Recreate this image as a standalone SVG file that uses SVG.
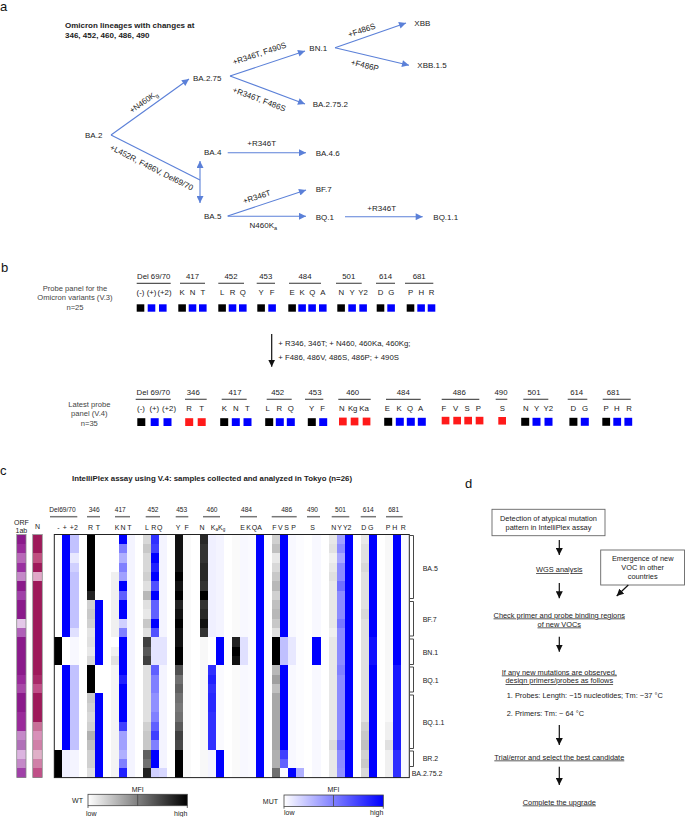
<svg xmlns="http://www.w3.org/2000/svg" width="685" height="817" viewBox="0 0 685 817">
<style>
text{font-family:"Liberation Sans",Arial,Helvetica,sans-serif;fill:#222}
.pl{font-size:13px;fill:#111}
.n8{font-size:8px}
.b8{font-size:8px;font-weight:bold}
.g8{font-size:7.6px;fill:#444}
.k8{font-size:7.8px}
.r8{font-size:7.8px;fill:#ff2a2a}
.h7{font-size:7px}
.hg{font-size:6.6px}
.d8{font-size:7.4px}
.m{text-anchor:middle}
.e{text-anchor:end}
.bl{stroke:#5b80d8;stroke-width:1.1;fill:none}
.ul{stroke:#555;stroke-width:1.2}
.ulc{stroke:#777;stroke-width:1.5}
.ka{stroke:#111;stroke-width:1.2}
.sqk{fill:#000}
.sqb{fill:#0000ff}
.sqr{fill:#ff1a1a}
.box{fill:#fff;stroke:#666;stroke-width:0.9}
.br{fill:none;stroke:#333;stroke-width:0.9}
</style>
<defs>
<marker id="ab" viewBox="0 0 10 10" refX="10" refY="5" markerWidth="9" markerHeight="7" markerUnits="userSpaceOnUse" orient="auto-start-reverse"><path d="M0,0 L10,5 L0,10 z" fill="#5b80d8"/></marker>
<marker id="ak" viewBox="0 0 10 10" refX="10" refY="5" markerWidth="7" markerHeight="7" markerUnits="userSpaceOnUse" orient="auto"><path d="M0,0 L10,5 L0,10 z" fill="#111"/></marker>
<linearGradient id="gwt" x1="0" x2="1" y1="0" y2="0"><stop offset="0" stop-color="#fff"/><stop offset="1" stop-color="#000"/></linearGradient>
<linearGradient id="gmut" x1="0" x2="1" y1="0" y2="0"><stop offset="0" stop-color="#fff"/><stop offset="1" stop-color="#0000ff"/></linearGradient>
</defs>

<!-- Panel a -->
<text class="pl" x="0" y="11">a</text>
<text class="b8" x="65" y="28">Omicron lineages with changes at</text>
<text class="b8" x="65" y="37.5">346, 452, 460, 486, 490</text>

<g id="connectors-a">
<path class="bl" d="M111,135 L189,79" marker-end="url(#ab)"/>
<path class="bl" d="M111,135 L200,180"/>
<path class="bl" d="M200,161 L200,203" stroke-width="1.6" marker-start="url(#ab)" marker-end="url(#ab)"/>
<path class="bl" d="M230,76 L305,51" marker-end="url(#ab)"/>
<path class="bl" d="M230,76 L305,104" marker-end="url(#ab)"/>
<path class="bl" d="M335,47.7 L406,23" marker-end="url(#ab)"/>
<path class="bl" d="M335,47.7 L409,65.3" marker-end="url(#ab)"/>
<path class="bl" d="M227.7,152.7 L306,152.7" marker-end="url(#ab)"/>
<path class="bl" d="M227.7,216 L306,190" marker-end="url(#ab)"/>
<path class="bl" d="M227.7,216.3 L306,216.3" marker-end="url(#ab)"/>
<path class="bl" d="M345,216.7 L422.7,216.7" marker-end="url(#ab)"/>
</g>
<g id="edge-labels-a">
<text class="n8 m" transform="translate(143.3,101.7) rotate(-35.7)" y="3">+N460K<tspan font-size="5.5" dy="2">g</tspan></text>
<text class="n8 m" transform="translate(151.7,167.3) rotate(26.8)" y="3">+L452R, F486V, Del69/70</text>
<text class="n8 m" transform="translate(259.3,53.3) rotate(-18.6)" y="3">+R346T, F490S</text>
<text class="n8 m" transform="translate(259.3,99) rotate(20.5)" y="3">+R346T, F486S</text>
<text class="n8 m" transform="translate(361.7,30) rotate(-19.4)" y="3">+F486S</text>
<text class="n8 m" transform="translate(365,65) rotate(13.4)" y="3">+F486P</text>
<text class="n8 m" x="261.7" y="146.3">+R346T</text>
<text class="n8 m" transform="translate(256.7,196.7) rotate(-18.4)" y="3">+R346T</text>
<text class="n8 m" x="263.3" y="228">N460K<tspan font-size="5.5" dy="2">a</tspan></text>
<text class="n8 m" x="381.7" y="211.3">+R346T</text>
</g>
<g id="BA2"><text class="n8" x="85" y="138">BA.2</text></g>
<g id="BA275"><text class="n8" x="193" y="80.5">BA.2.75</text></g>
<g id="BA4"><text class="n8" x="204" y="155">BA.4</text></g>
<g id="BA5"><text class="n8" x="204" y="219">BA.5</text></g>
<g id="BN1"><text class="n8" x="309.3" y="50.5">BN.1</text></g>
<g id="XBB"><text class="n8" x="414.3" y="25.5">XBB</text></g>
<g id="XBB15"><text class="n8" x="417.3" y="68">XBB.1.5</text></g>
<g id="BA2752"><text class="n8" x="312.7" y="107">BA.2.75.2</text></g>
<g id="BA46"><text class="n8" x="315.7" y="156">BA.4.6</text></g>
<g id="BF7"><text class="n8" x="315.7" y="192">BF.7</text></g>
<g id="BQ1"><text class="n8" x="315.7" y="219.5">BQ.1</text></g>
<g id="BQ11"><text class="n8" x="433.3" y="219.5">BQ.1.1</text></g>

<!-- Panel b -->
<text class="pl" x="1" y="272">b</text>
<g id="panel-v3">
<text class="g8 m" x="75" y="291">Probe panel for the</text>
<text class="g8 m" x="75" y="300.3">Omicron variants (V.3)</text>
<text class="g8 m" x="75" y="309.5">n=25</text>
<g class="k8 m">
<text x="153.7" y="279">Del 69/70</text><text x="192.5" y="279">417</text><text x="231" y="279">452</text><text x="265.8" y="279">453</text><text x="305" y="279">484</text><text x="348.8" y="279">501</text><text x="385.5" y="279">614</text><text x="419.2" y="279">681</text>
</g>
<g class="ul">
<line x1="136.7" x2="170.7" y1="283.3" y2="283.3"/><line x1="180" x2="205" y1="283.3" y2="283.3"/><line x1="218.3" x2="244" y1="283.3" y2="283.3"/><line x1="256.7" x2="275" y1="283.3" y2="283.3"/><line x1="289" x2="321" y1="283.3" y2="283.3"/><line x1="336" x2="361.7" y1="283.3" y2="283.3"/><line x1="376" x2="395" y1="283.3" y2="283.3"/><line x1="405" x2="433.3" y1="283.3" y2="283.3"/>
</g>
<g class="k8 m">
<text x="140.5" y="294.5">(-)</text><text x="151.5" y="294.5">(+)</text><text x="164.5" y="294.5">(+2)</text>
<text x="182.2" y="294.5">K</text><text x="192.5" y="294.5">N</text><text x="202.8" y="294.5">T</text>
<text x="222.2" y="294.5">L</text><text x="232.5" y="294.5">R</text><text x="242.8" y="294.5">Q</text>
<text x="261.2" y="294.5">Y</text><text x="272.2" y="294.5">F</text>
<text x="292.2" y="294.5">E</text><text x="302.2" y="294.5">K</text><text x="312.2" y="294.5">Q</text><text x="322.8" y="294.5">A</text>
<text x="341.2" y="294.5">N</text><text x="352.2" y="294.5">Y</text><text x="363" y="294.5">Y2</text>
<text x="380.5" y="294.5">D</text><text x="391.2" y="294.5">G</text>
<text x="410.5" y="294.5">P</text><text x="421.2" y="294.5">H</text><text x="431.5" y="294.5">R</text>
</g>
<g>
<rect class="sqk" x="136.7" y="304.3" width="7.6" height="7.4"/><rect class="sqb" x="147.7" y="304.3" width="7.6" height="7.4"/><rect class="sqb" x="159" y="304.3" width="7.6" height="7.4"/>
<rect class="sqk" x="178.3" y="304.3" width="7.6" height="7.4"/><rect class="sqb" x="188.7" y="304.3" width="7.6" height="7.4"/><rect class="sqb" x="199" y="304.3" width="7.6" height="7.4"/>
<rect class="sqk" x="218.3" y="304.3" width="7.6" height="7.4"/><rect class="sqb" x="228.7" y="304.3" width="7.6" height="7.4"/><rect class="sqb" x="239" y="304.3" width="7.6" height="7.4"/>
<rect class="sqk" x="257.3" y="304.3" width="7.6" height="7.4"/><rect class="sqb" x="268.3" y="304.3" width="7.6" height="7.4"/>
<rect class="sqk" x="288.3" y="304.3" width="7.6" height="7.4"/><rect class="sqb" x="298.3" y="304.3" width="7.6" height="7.4"/><rect class="sqb" x="308.3" y="304.3" width="7.6" height="7.4"/><rect class="sqb" x="319" y="304.3" width="7.6" height="7.4"/>
<rect class="sqk" x="337.3" y="304.3" width="7.6" height="7.4"/><rect class="sqb" x="348.3" y="304.3" width="7.6" height="7.4"/><rect class="sqb" x="359.3" y="304.3" width="7.6" height="7.4"/>
<rect class="sqk" x="376.7" y="304.3" width="7.6" height="7.4"/><rect class="sqb" x="387.3" y="304.3" width="7.6" height="7.4"/>
<rect class="sqk" x="406.7" y="304.3" width="7.6" height="7.4"/><rect class="sqb" x="417.3" y="304.3" width="7.6" height="7.4"/><rect class="sqb" x="427.7" y="304.3" width="7.6" height="7.4"/>
</g>
</g>

<g id="connector-b">
<line class="ka" x1="271.7" y1="334" x2="271.7" y2="366.7" marker-end="url(#ak)"/>
</g>
<text class="k8" x="278.3" y="346">+ R346, 346T; + N460, 460Ka, 460Kg;</text>
<text class="k8" x="278.3" y="359.5">+ F486, 486V, 486S, 486P; + 490S</text>

<g id="panel-v4">
<text class="g8 m" x="89.3" y="407">Latest probe</text>
<text class="g8 m" x="89.3" y="416">panel (V.4)</text>
<text class="g8 m" x="89.3" y="425.5">n=35</text>
<g class="k8 m">
<text x="153.3" y="395">Del 69/70</text><text x="235" y="395">417</text><text x="277.7" y="395">452</text><text x="315" y="395">453</text><text x="403.3" y="395">484</text><text x="534" y="395">501</text><text x="576.7" y="395">614</text><text x="613.3" y="395">681</text>
</g>
<g class="r8 m">
<text x="193.3" y="395">346</text><text x="352.7" y="395">460</text><text x="459.3" y="395">486</text><text x="501" y="395">490</text>
</g>
<g class="ul">
<line x1="135.7" x2="170.7" y1="399.3" y2="399.3"/><line x1="185" x2="206.7" y1="399.3" y2="399.3"/><line x1="221.7" x2="246.7" y1="399.3" y2="399.3"/><line x1="266.7" x2="291.7" y1="399.3" y2="399.3"/><line x1="305" x2="323.3" y1="399.3" y2="399.3"/><line x1="338.3" x2="370.7" y1="399.3" y2="399.3"/><line x1="386" x2="420.7" y1="399.3" y2="399.3"/><line x1="441.7" x2="479.3" y1="399.3" y2="399.3"/><line x1="495.7" x2="507.3" y1="399.3" y2="399.3"/><line x1="523.3" x2="548.3" y1="399.3" y2="399.3"/><line x1="567.7" x2="587.3" y1="399.3" y2="399.3"/><line x1="602.7" x2="630.7" y1="399.3" y2="399.3"/>
</g>
<g class="k8 m">
<text x="141" y="410.5">(-)</text><text x="154.3" y="410.5">(+)</text><text x="169" y="410.5">(+2)</text>
<text x="224.3" y="410.5">K</text><text x="235.7" y="410.5">N</text><text x="247.3" y="410.5">T</text>
<text x="267.7" y="410.5">L</text><text x="279.3" y="410.5">R</text><text x="290.7" y="410.5">Q</text>
<text x="311.7" y="410.5">Y</text><text x="322.7" y="410.5">F</text>
<text x="387.3" y="410.5">E</text><text x="399" y="410.5">K</text><text x="410" y="410.5">Q</text><text x="420.7" y="410.5">A</text>
<text x="525.7" y="410.5">N</text><text x="536.7" y="410.5">Y</text><text x="548.3" y="410.5">Y2</text>
<text x="573.3" y="410.5">D</text><text x="585" y="410.5">G</text>
<text x="606" y="410.5">P</text><text x="616.7" y="410.5">H</text><text x="629" y="410.5">R</text>
</g>
<g class="r8 m">
<text x="189" y="410.5">R</text><text x="201.7" y="410.5">T</text>
<text x="341.7" y="410.5">N</text><text x="352.7" y="410.5">Kg</text><text x="364" y="410.5">Ka</text>
<text x="444" y="410.5">F</text><text x="455.7" y="410.5">V</text><text x="467" y="410.5">S</text><text x="478.3" y="410.5">P</text>
<text x="502.3" y="410.5">S</text>
</g>
<g>
<rect class="sqk" x="137.3" y="418.2" width="8" height="7.8"/><rect class="sqb" x="150.7" y="418.2" width="8" height="7.8"/><rect class="sqb" x="163.5" y="418.2" width="8" height="7.8"/>
<rect class="sqr" x="185.2" y="418.2" width="8" height="7.8"/><rect class="sqr" x="197.7" y="418.2" width="8" height="7.8"/>
<rect class="sqk" x="220.2" y="418.2" width="8" height="7.8"/><rect class="sqb" x="231.8" y="418.2" width="8" height="7.8"/><rect class="sqb" x="243.5" y="418.2" width="8" height="7.8"/>
<rect class="sqk" x="265.2" y="418.2" width="8" height="7.8"/><rect class="sqb" x="275.8" y="418.2" width="8" height="7.8"/><rect class="sqb" x="286.8" y="418.2" width="8" height="7.8"/>
<rect class="sqk" x="307.8" y="418.2" width="8" height="7.8"/><rect class="sqb" x="319.2" y="418.2" width="8" height="7.8"/>
<rect class="sqr" x="339" y="417.6" width="7.7" height="7.8"/><rect class="sqr" x="350.7" y="417.6" width="7.7" height="7.8"/><rect class="sqr" x="362.7" y="417.6" width="7.7" height="7.8"/>
<rect class="sqk" x="384.2" y="417.8" width="8" height="8"/><rect class="sqb" x="395.8" y="417.8" width="8" height="8"/><rect class="sqb" x="406.8" y="417.8" width="8" height="8"/><rect class="sqb" x="417.8" y="417.8" width="8" height="8"/>
<rect class="sqr" x="441.7" y="416.8" width="7.7" height="7.6"/><rect class="sqr" x="453.3" y="416.8" width="7.7" height="7.6"/><rect class="sqr" x="464.3" y="416.8" width="7.7" height="7.6"/><rect class="sqr" x="475.7" y="416.8" width="7.7" height="7.6"/>
<rect class="sqr" x="498.3" y="417" width="7.7" height="7.6"/>
<rect class="sqk" x="521.2" y="417.8" width="8" height="8"/><rect class="sqb" x="532.5" y="417.8" width="8" height="8"/><rect class="sqb" x="544.5" y="417.8" width="8" height="8"/>
<rect class="sqk" x="569.4" y="417.8" width="8" height="8"/><rect class="sqb" x="580.8" y="417.8" width="8" height="8"/>
<rect class="sqk" x="602.3" y="417.8" width="7.8" height="8"/><rect class="sqb" x="613.3" y="417.8" width="7.8" height="8"/><rect class="sqb" x="624.4" y="417.8" width="7.8" height="8"/>
</g>
</g>

<!-- Panel c -->
<text class="pl" x="0" y="475">c</text>
<text class="b8" x="72" y="481" textLength="280" lengthAdjust="spacingAndGlyphs">IntelliPlex assay using V.4: samples collected and analyzed in Tokyo (n=26)</text>
<g id="heat-header">
<g class="hg m">
<text x="62.5" y="512">Del69/70</text><text x="94.2" y="512">346</text><text x="120.3" y="512">417</text><text x="153" y="512">452</text><text x="181.7" y="512">453</text><text x="212" y="512">460</text><text x="246.5" y="512">484</text><text x="286.7" y="512">486</text><text x="312.5" y="512">490</text><text x="340.5" y="512">501</text><text x="368.3" y="512">614</text><text x="393.7" y="512">681</text>
</g>
<g class="ulc">
<line x1="50" x2="77.3" y1="516.7" y2="516.7"/><line x1="87" x2="100" y1="516.7" y2="516.7"/><line x1="115" x2="130" y1="516.7" y2="516.7"/><line x1="145.7" x2="160" y1="516.7" y2="516.7"/><line x1="175.7" x2="188.3" y1="516.7" y2="516.7"/><line x1="203" x2="220" y1="516.7" y2="516.7"/><line x1="240" x2="257" y1="516.7" y2="516.7"/><line x1="271.7" x2="296.7" y1="516.7" y2="516.7"/><line x1="307" x2="320" y1="516.7" y2="516.7"/><line x1="331.7" x2="349.3" y1="516.7" y2="516.7"/><line x1="360.7" x2="376" y1="516.7" y2="516.7"/><line x1="386" x2="402.7" y1="516.7" y2="516.7"/>
</g>
<g class="h7 m">
<text x="58.3" y="529.5">-</text><text x="64.7" y="529.5">+</text><text x="73.8" y="529.5">+2</text>
<text x="90.5" y="529.5">R</text><text x="98" y="529.5">T</text>
<text x="117" y="529.5">K</text><text x="123" y="529.5">N</text><text x="129.5" y="529.5">T</text>
<text x="147" y="529.5">L</text><text x="153.8" y="529.5">R</text><text x="159.8" y="529.5">Q</text>
<text x="178" y="529.5">Y</text><text x="186.7" y="529.5">F</text>
<text x="202" y="529.5">N</text><text x="218" y="529.5">K<tspan font-size="4.5" dy="1.5">a</tspan><tspan dy="-1.5">K</tspan><tspan font-size="4.5" dy="1.5">g</tspan></text>
<text x="242.5" y="529.5">E</text><text x="248.7" y="529.5">K</text><text x="254.5" y="529.5">Q</text><text x="259.5" y="529.5">A</text>
<text x="274.3" y="529.5">F</text><text x="280.3" y="529.5">V</text><text x="286.7" y="529.5">S</text><text x="293.7" y="529.5">P</text>
<text x="312.7" y="529.5">S</text>
<text x="333.8" y="529.5">N</text><text x="339.7" y="529.5">Y</text><text x="347.2" y="529.5">Y2</text>
<text x="363.8" y="529.5">D</text><text x="370.8" y="529.5">G</text>
<text x="388" y="529.5">P</text><text x="394.7" y="529.5">H</text><text x="403.3" y="529.5">R</text>
</g>
<text class="h7 m" x="21.4" y="524.5">ORF</text>
<text class="h7 m" x="21.4" y="533">1ab</text>
<text class="h7 m" x="37.5" y="528.5">N</text>
</g>

<g id="orf-n" transform="translate(0,534.5) scale(1,9.35)" shape-rendering="crispEdges">
<g transform="translate(16.7,0) scale(9.3,1)">
<rect x="0" y="0" width="1" height="26" fill="#8b1a8b"/>
<rect x="0" y="1" width="1" height="1" fill="#9a2c9a"/><rect x="0" y="2" width="1" height="1" fill="#b868b8"/><rect x="0" y="3" width="1" height="1" fill="#9a30a0"/><rect x="0" y="4" width="1" height="1" fill="#c488c8"/><rect x="0" y="6" width="1" height="1" fill="#a040a8"/><rect x="0" y="9" width="1" height="1" fill="#e4c8e8"/><rect x="0" y="10" width="1" height="1" fill="#b060b8"/><rect x="0" y="15" width="1" height="1" fill="#9a2a9a"/><rect x="0" y="16" width="1" height="1" fill="#a848a8"/><rect x="0" y="19" width="1" height="1" fill="#9a2a9a"/><rect x="0" y="20" width="1" height="1" fill="#9a2a9a"/><rect x="0" y="21" width="1" height="1" fill="#c488c8"/><rect x="0" y="22" width="1" height="1" fill="#b070b8"/><rect x="0" y="23" width="1" height="1" fill="#dcb4e0"/><rect x="0" y="24" width="1" height="1" fill="#c488c8"/><rect x="0" y="25" width="1" height="1" fill="#a040a8"/>
</g>
<g transform="translate(32.7,0) scale(9.6,1)">
<rect x="0" y="0" width="1" height="26" fill="#9e1a5a"/>
<rect x="0" y="2" width="1" height="1" fill="#c05080"/><rect x="0" y="4" width="1" height="1" fill="#e0a8c8"/><rect x="0" y="15" width="1" height="1" fill="#a82a68"/><rect x="0" y="16" width="1" height="1" fill="#c05088"/><rect x="0" y="20" width="1" height="1" fill="#c87098"/><rect x="0" y="21" width="1" height="1" fill="#d890b8"/><rect x="0" y="22" width="1" height="1" fill="#d080a8"/><rect x="0" y="23" width="1" height="1" fill="#e0b0c8"/><rect x="0" y="24" width="1" height="1" fill="#d080a8"/><rect x="0" y="25" width="1" height="1" fill="#c05088"/>
</g>
</g>
<rect x="16.7" y="534.5" width="9.3" height="243.1" fill="none" stroke="#888" stroke-width="0.8"/>
<rect x="32.7" y="534.5" width="9.6" height="243.1" fill="none" stroke="#888" stroke-width="0.8"/>

<g id="heatmap" transform="translate(54.3,534.5) scale(8.068,9.35)" shape-rendering="crispEdges">
<rect x="0" y="0" width="44" height="26" fill="#fff"/>
<rect x="0" y="11" width="1" height="3" fill="#000"/><rect x="0" y="23" width="1" height="3" fill="#000"/>
<rect x="1" y="0" width="1" height="11" fill="#0000ff"/><rect x="1" y="14" width="1" height="9" fill="#0000ff"/><rect x="1" y="23" width="1" height="3" fill="#f0f0ff"/>
<rect x="2" y="0" width="1" height="26" fill="#c2c2ff"/>
<rect x="2" y="2" width="1" height="1" fill="#e8e8ff"/><rect x="2" y="3" width="1" height="1" fill="#d0d0ff"/><rect x="2" y="10" width="1" height="1" fill="#e0e0ff"/><rect x="2" y="11" width="1" height="3" fill="#f8f8ff"/><rect x="2" y="23" width="1" height="3" fill="#f4f4ff"/>
<rect x="4" y="0" width="1" height="6" fill="#000"/><rect x="4" y="6" width="1" height="1" fill="#222"/>
<rect x="4" y="7" width="1" height="1" fill="#d0d0d0"/><rect x="4" y="8" width="1" height="1" fill="#c8c8c8"/><rect x="4" y="9" width="1" height="1" fill="#d0d0d0"/><rect x="4" y="10" width="1" height="1" fill="#e4e4e4"/><rect x="4" y="11" width="1" height="1" fill="#e0e0e0"/><rect x="4" y="12" width="1" height="1" fill="#e8e8e8"/><rect x="4" y="13" width="1" height="1" fill="#d8d8d8"/>
<rect x="4" y="14" width="1" height="3" fill="#000"/>
<rect x="4" y="17" width="1" height="1" fill="#c8c8c8"/><rect x="4" y="18" width="1" height="1" fill="#d0d0d0"/><rect x="4" y="19" width="1" height="1" fill="#d8d8d8"/><rect x="4" y="20" width="1" height="1" fill="#d0d0d0"/><rect x="4" y="21" width="1" height="1" fill="#b0b0b0"/><rect x="4" y="22" width="1" height="1" fill="#c0c0c0"/><rect x="4" y="23" width="1" height="2" fill="#d0d0d0"/><rect x="4" y="25" width="1" height="1" fill="#e0e0e0"/>
<rect x="5" y="7" width="1" height="7" fill="#0000ff"/><rect x="5" y="17" width="1" height="9" fill="#0000ff"/>
<rect x="7" y="4" width="1" height="7" fill="#f0f0f0"/><rect x="7" y="12" width="1" height="1" fill="#f0f0f0"/><rect x="7" y="13" width="1" height="1" fill="#e0e0e0"/><rect x="7" y="14" width="1" height="12" fill="#f4f4f4"/>
<rect x="8" y="0" width="1" height="26" fill="#0000ff"/>
<rect x="8" y="1" width="1" height="1" fill="#8080ff"/><rect x="8" y="2" width="1" height="1" fill="#b0b0ff"/><rect x="8" y="3" width="1" height="1" fill="#8080ff"/><rect x="8" y="4" width="1" height="1" fill="#a0a0ff"/><rect x="8" y="6" width="1" height="1" fill="#6060ff"/><rect x="8" y="9" width="1" height="1" fill="#d0d0ff"/><rect x="8" y="10" width="1" height="1" fill="#8080ff"/><rect x="8" y="15" width="1" height="1" fill="#2020ff"/><rect x="8" y="20" width="1" height="1" fill="#4040ff"/><rect x="8" y="21" width="1" height="2" fill="#a0a0ff"/><rect x="8" y="23" width="1" height="1" fill="#b0b0ff"/><rect x="8" y="24" width="1" height="1" fill="#8080ff"/><rect x="8" y="25" width="1" height="1" fill="#2020ff"/>
<rect x="9" y="0" width="1" height="26" fill="#f4f4ff"/>
<rect x="11" y="0" width="1" height="26" fill="#e0e0e0"/>
<rect x="11" y="0" width="1" height="1" fill="#d8d8d8"/><rect x="11" y="1" width="1" height="1" fill="#c8c8c8"/><rect x="11" y="2" width="1" height="2" fill="#d8d8d8"/><rect x="11" y="4" width="1" height="1" fill="#d0d0d0"/><rect x="11" y="6" width="1" height="1" fill="#b8b8b8"/><rect x="11" y="8" width="1" height="1" fill="#e8e8e8"/><rect x="11" y="9" width="1" height="1" fill="#c8c8c8"/>
<rect x="11" y="11" width="1" height="1" fill="#404040"/><rect x="11" y="12" width="1" height="1" fill="#585858"/><rect x="11" y="13" width="1" height="1" fill="#404040"/>
<rect x="11" y="20" width="1" height="1" fill="#d0d0d0"/><rect x="11" y="21" width="1" height="2" fill="#c8c8c8"/><rect x="11" y="23" width="1" height="1" fill="#606060"/><rect x="11" y="24" width="1" height="1" fill="#707070"/><rect x="11" y="25" width="1" height="1" fill="#202020"/>
<rect x="12" y="0" width="1" height="26" fill="#0000ff"/>
<rect x="12" y="0" width="1" height="1" fill="#3030ff"/><rect x="12" y="1" width="1" height="1" fill="#4040ff"/><rect x="12" y="3" width="1" height="1" fill="#2020ff"/><rect x="12" y="5" width="1" height="1" fill="#5050ff"/><rect x="12" y="7" width="1" height="2" fill="#6060ff"/><rect x="12" y="10" width="1" height="1" fill="#5050ff"/><rect x="12" y="11" width="1" height="3" fill="#e4e4ff"/>
<rect x="12" y="14" width="1" height="1" fill="#6060ff"/><rect x="12" y="15" width="1" height="2" fill="#8080ff"/><rect x="12" y="17" width="1" height="2" fill="#9090ff"/><rect x="12" y="19" width="1" height="1" fill="#8080ff"/><rect x="12" y="20" width="1" height="1" fill="#6060ff"/><rect x="12" y="21" width="1" height="1" fill="#4040ff"/><rect x="12" y="22" width="1" height="1" fill="#8080ff"/><rect x="12" y="25" width="1" height="1" fill="#d0d0ff"/>
<rect x="13" y="0" width="1" height="26" fill="#f4f4ff"/><rect x="13" y="11" width="1" height="3" fill="#e4e4ff"/><rect x="13" y="25" width="1" height="1" fill="#d8d8ff"/>
<rect x="15" y="0" width="1" height="14" fill="#111"/><rect x="15" y="4" width="1" height="1" fill="#000"/><rect x="15" y="6" width="1" height="1" fill="#000"/><rect x="15" y="7" width="1" height="1" fill="#222"/><rect x="15" y="9" width="1" height="1" fill="#000"/><rect x="15" y="12" width="1" height="2" fill="#000"/>
<rect x="15" y="14" width="1" height="1" fill="#505050"/><rect x="15" y="15" width="1" height="1" fill="#707070"/><rect x="15" y="16" width="1" height="1" fill="#606060"/><rect x="15" y="17" width="1" height="1" fill="#707070"/><rect x="15" y="18" width="1" height="1" fill="#787878"/><rect x="15" y="19" width="1" height="1" fill="#707070"/><rect x="15" y="20" width="1" height="1" fill="#5a5a5a"/><rect x="15" y="21" width="1" height="1" fill="#404040"/><rect x="15" y="22" width="1" height="1" fill="#484848"/><rect x="15" y="23" width="1" height="3" fill="#000"/>
<rect x="16" y="0" width="1" height="26" fill="#fafafa"/>
<rect x="18" y="0" width="1" height="11" fill="#282828"/><rect x="18" y="1" width="1" height="2" fill="#333"/><rect x="18" y="5" width="1" height="1" fill="#333"/><rect x="18" y="6" width="1" height="1" fill="#000"/><rect x="18" y="7" width="1" height="1" fill="#333"/><rect x="18" y="9" width="1" height="1" fill="#111"/><rect x="18" y="10" width="1" height="1" fill="#333"/><rect x="18" y="11" width="1" height="15" fill="#f8f8f8"/>
<rect x="19" y="0" width="1" height="11" fill="#f0f0ff"/><rect x="19" y="14" width="1" height="9" fill="#3030ff"/><rect x="19" y="15" width="1" height="1" fill="#2020ff"/><rect x="19" y="17" width="1" height="2" fill="#2828ff"/><rect x="19" y="23" width="1" height="3" fill="#f4f4ff"/>
<rect x="20" y="0" width="1" height="11" fill="#f4f4ff"/><rect x="20" y="11" width="1" height="3" fill="#0000ff"/><rect x="20" y="14" width="1" height="9" fill="#fafaff"/><rect x="20" y="23" width="1" height="3" fill="#0000ff"/>
<rect x="22" y="0" width="1" height="26" fill="#fafafa"/><rect x="22" y="11" width="1" height="1" fill="#222"/><rect x="22" y="12" width="1" height="1" fill="#000"/><rect x="22" y="13" width="1" height="1" fill="#111"/>
<rect x="23" y="0" width="1" height="26" fill="#f8f8ff"/><rect x="23" y="11" width="1" height="3" fill="#e0e0ff"/>
<rect x="24" y="0" width="1" height="26" fill="#fafaff"/>
<rect x="25" y="0" width="1" height="26" fill="#0000ff"/>
<rect x="27" y="0" width="1" height="26" fill="#c8c8c8"/>
<rect x="27" y="0" width="1" height="1" fill="#d0d0d0"/><rect x="27" y="1" width="1" height="1" fill="#c0c0c0"/><rect x="27" y="2" width="1" height="1" fill="#e8e8e8"/><rect x="27" y="3" width="1" height="1" fill="#d8d8d8"/><rect x="27" y="5" width="1" height="1" fill="#b8b8b8"/><rect x="27" y="6" width="1" height="1" fill="#d0d0d0"/><rect x="27" y="7" width="1" height="1" fill="#c0c0c0"/><rect x="27" y="8" width="1" height="1" fill="#b8b8b8"/><rect x="27" y="10" width="1" height="1" fill="#e0e0e0"/>
<rect x="27" y="11" width="1" height="3" fill="#000"/>
<rect x="27" y="14" width="1" height="1" fill="#b8b8b8"/><rect x="27" y="15" width="1" height="1" fill="#a0a0a0"/><rect x="27" y="16" width="1" height="1" fill="#c0c0c0"/><rect x="27" y="17" width="1" height="6" fill="#a8a8a8"/><rect x="27" y="23" width="1" height="2" fill="#b0b0b0"/><rect x="27" y="25" width="1" height="1" fill="#707070"/>
<rect x="28" y="0" width="1" height="11" fill="#0000ff"/><rect x="28" y="11" width="1" height="3" fill="#c0c0ff"/><rect x="28" y="14" width="1" height="9" fill="#0000ff"/><rect x="28" y="23" width="1" height="1" fill="#4040ff"/><rect x="28" y="24" width="1" height="1" fill="#6060ff"/><rect x="28" y="25" width="1" height="1" fill="#fafaff"/>
<rect x="29" y="0" width="1" height="26" fill="#f8f8ff"/><rect x="29" y="11" width="1" height="3" fill="#e8e8ff"/><rect x="29" y="25" width="1" height="1" fill="#0000ff"/>
<rect x="30" y="0" width="1" height="25" fill="#fcfcff"/><rect x="30" y="25" width="1" height="1" fill="#b0b0ff"/>
<rect x="32" y="0" width="1" height="26" fill="#f8f8ff"/><rect x="32" y="11" width="1" height="3" fill="#0000ff"/>
<rect x="34" y="0" width="1" height="26" fill="#e8e8e8"/><rect x="34" y="1" width="1" height="1" fill="#e2e2e2"/><rect x="34" y="2" width="1" height="1" fill="#f0f0f0"/><rect x="34" y="4" width="1" height="1" fill="#e0e0e0"/><rect x="34" y="10" width="1" height="1" fill="#f0f0f0"/><rect x="34" y="22" width="1" height="1" fill="#dcdcdc"/>
<rect x="35" y="0" width="1" height="26" fill="#8c8cff"/><rect x="35" y="0" width="1" height="1" fill="#a0a0ff"/><rect x="35" y="2" width="1" height="1" fill="#a8a8ff"/><rect x="35" y="5" width="1" height="1" fill="#7070ff"/><rect x="35" y="9" width="1" height="1" fill="#7878ff"/><rect x="35" y="14" width="1" height="1" fill="#8080ff"/><rect x="35" y="22" width="1" height="1" fill="#7070ff"/><rect x="35" y="25" width="1" height="1" fill="#9090ff"/>
<rect x="36" y="0" width="1" height="26" fill="#0000ff"/>
<rect x="38" y="0" width="1" height="26" fill="#e0e0e0"/><rect x="38" y="0" width="1" height="1" fill="#e8e8e8"/><rect x="38" y="3" width="1" height="1" fill="#d8d8d8"/><rect x="38" y="8" width="1" height="1" fill="#d8d8d8"/><rect x="38" y="20" width="1" height="1" fill="#d0d0d0"/><rect x="38" y="21" width="1" height="1" fill="#c8c8c8"/><rect x="38" y="22" width="1" height="1" fill="#c0c0c0"/><rect x="38" y="23" width="1" height="1" fill="#d0d0d0"/><rect x="38" y="24" width="1" height="1" fill="#c8c8c8"/><rect x="38" y="25" width="1" height="1" fill="#d8d8d8"/>
<rect x="39" y="0" width="1" height="26" fill="#0000ff"/><rect x="39" y="11" width="1" height="3" fill="#1010ff"/>
<rect x="41" y="0" width="1" height="26" fill="#f8f8f8"/><rect x="41" y="20" width="1" height="6" fill="#f0f0f0"/><rect x="41" y="22" width="1" height="1" fill="#e0e0e0"/>
<rect x="42" y="0" width="1" height="14" fill="#0000ff"/><rect x="42" y="14" width="1" height="12" fill="#1818ff"/><rect x="42" y="23" width="1" height="3" fill="#3030ff"/>
<rect x="43" y="0" width="1" height="26" fill="#f8f8ff"/>
</g>
<rect x="54.3" y="534.5" width="355" height="243.1" fill="none" stroke="#222" stroke-width="1"/>

<g id="groups">
<path class="br" d="M410,535.5 H413.5 V598.5 H410"/>
<path class="br" d="M410,601.5 H413.5 V636 H410"/>
<path class="br" d="M410,639 H413.5 V664.5 H410"/>
<path class="br" d="M410,667 H413.5 V692 H410"/>
<path class="br" d="M410,695 H413.5 V748.5 H410"/>
<path class="br" d="M410,751 H413.5 V766.5 H410"/>
<g class="h7">
<text x="422.7" y="571">BA.5</text>
<text x="422.7" y="622">BF.7</text>
<text x="422.7" y="655">BN.1</text>
<text x="422.7" y="682.7">BQ.1</text>
<text x="422.7" y="725">BQ.1.1</text>
<text x="422.7" y="760.5">BR.2</text>
<text x="411.7" y="775.5">BA.2.75.2</text>
</g>
</g>

<g id="legend">
<rect x="88" y="794.3" width="99.3" height="11.4" fill="url(#gwt)" stroke="#444" stroke-width="0.8"/>
<line x1="137.7" x2="137.7" y1="794.3" y2="805.7" stroke="#444" stroke-width="0.8"/>
<line x1="88" x2="88" y1="805.7" y2="808" stroke="#444" stroke-width="0.8"/>
<line x1="187.3" x2="187.3" y1="805.7" y2="808" stroke="#444" stroke-width="0.8"/>
<text class="h7 e" x="83" y="803">WT</text>
<text class="h7 m" x="137.7" y="791.5">MFI</text>
<text class="h7" x="86" y="815.5">low</text>
<text class="h7 e" x="187.3" y="815.5">high</text>
<rect x="284" y="795" width="99.3" height="11.4" fill="url(#gmut)" stroke="#444" stroke-width="0.8"/>
<line x1="333.5" x2="333.5" y1="795" y2="806.4" stroke="#444" stroke-width="0.8"/>
<line x1="284" x2="284" y1="806.4" y2="808.7" stroke="#444" stroke-width="0.8"/>
<line x1="383.3" x2="383.3" y1="806.4" y2="808.7" stroke="#444" stroke-width="0.8"/>
<text class="h7 e" x="278" y="804">MUT</text>
<text class="h7 m" x="333.5" y="791.5">MFI</text>
<text class="h7" x="284" y="815">low</text>
<text class="h7 e" x="383.3" y="815">high</text>
</g>

<!-- Panel d -->
<text class="pl" x="465" y="488">d</text>
<g id="d-detect">
<rect class="box" x="492" y="509.3" width="113" height="26.4"/>
<text class="d8 m" x="548.5" y="521">Detection of atypical mutation</text>
<text class="d8 m" x="548.5" y="530">pattern in IntelliPlex assay</text>
</g>
<g id="d-wgs"><text class="d8 m" x="559.3" y="572" text-decoration="underline">WGS analysis</text></g>
<g id="d-emerge">
<rect class="box" x="600.7" y="550" width="83.8" height="35"/>
<text class="d8 m" x="642.7" y="561">Emergence of new</text>
<text class="d8 m" x="642.7" y="569.5">VOC in other</text>
<text class="d8 m" x="642.7" y="578.5">countries</text>
</g>
<g id="d-check">
<text class="d8 m" x="559.3" y="617.5" text-decoration="underline">Check primer and probe binding regions</text>
<text class="d8 m" x="559.3" y="626.5" text-decoration="underline">of new VOCs</text>
</g>
<g id="d-design">
<text class="d8 m" x="559.3" y="674.5" text-decoration="underline">If any new mutations are observed,</text>
<text class="d8 m" x="559.3" y="683" text-decoration="underline">design primers/probes as follows</text>
<text class="d8" x="506.7" y="697.5">1. Probes: Length: ~15 nucleotides; Tm: ~37 °C</text>
<text class="d8" x="506.7" y="716">2. Primers: Tm: ~ 64 °C</text>
</g>
<g id="d-trial"><text class="d8 m" x="559.3" y="759.5" text-decoration="underline">Trial/error and select the best candidate</text></g>
<g id="d-complete"><text class="d8 m" x="559.3" y="804.5" text-decoration="underline">Complete the upgrade</text></g>
<g id="connectors-d">
<line class="ka" x1="559.3" y1="540" x2="559.3" y2="555" marker-end="url(#ak)"/>
<line class="ka" x1="559.3" y1="583" x2="559.3" y2="598.3" marker-end="url(#ak)"/>
<line class="ka" x1="628.3" y1="585" x2="616.7" y2="596" marker-end="url(#ak)"/>
<line class="ka" x1="559.3" y1="636.7" x2="559.3" y2="651.7" marker-end="url(#ak)"/>
<line class="ka" x1="559.3" y1="725" x2="559.3" y2="745" marker-end="url(#ak)"/>
<line class="ka" x1="559.3" y1="766.7" x2="559.3" y2="785" marker-end="url(#ak)"/>
</g>
</svg>
